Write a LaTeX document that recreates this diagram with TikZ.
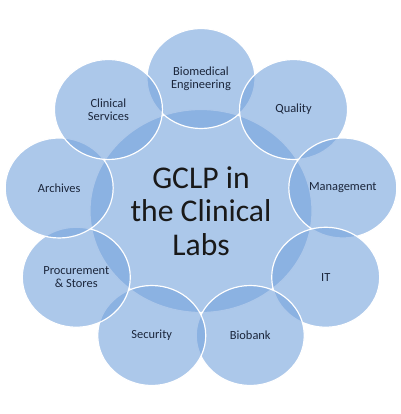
\documentclass[tikz,border=0pt]{standalone}
\usepackage{fontspec}
\setmainfont{Carlito}
\usetikzlibrary{shapes.geometric}
\definecolor{petal}{RGB}{117,163,220}
\definecolor{labeltext}{RGB}{27,38,59}

\begin{document}
\begin{tikzpicture}[
    C/.style = {ellipse, draw=white, line width=1pt,% hub in the middle
                fill=petal, fill opacity=0.6, text opacity=1,
                minimum width=6.66cm, minimum height=6.09cm,
                inner sep=0pt, align=center, text=black!90,
                font=\fontsize{27}{28.5}\selectfont},
    P/.style = {C, minimum width=3.24cm, minimum height=3cm,% petals round the hub
                text=labeltext, font=\fontsize{10.6}{11.5}\selectfont},
                    ]
\useasboundingbox (-6.03,-6.09) rectangle (5.97,6.33);
\node[C] (gclp) at (0,0) {GCLP in\\the Clinical\\Labs};
\foreach \a/\n/\lbl in {90/bio/{Biomedical\\Engineering},
                        50/quality/Quality,
                        10/mgmt/Management,
                        -30/it/IT,
                        -70/biobank/Biobank,
                        -110/security/Security,
                        -150/procure/{Procurement\\\& Stores},
                        170/archives/Archives,
                        130/clinical/{Clinical\\Services}}
    \node[P] (\n) at (\a:4.32 and 3.975) {\lbl};
\end{tikzpicture}
\end{document}
